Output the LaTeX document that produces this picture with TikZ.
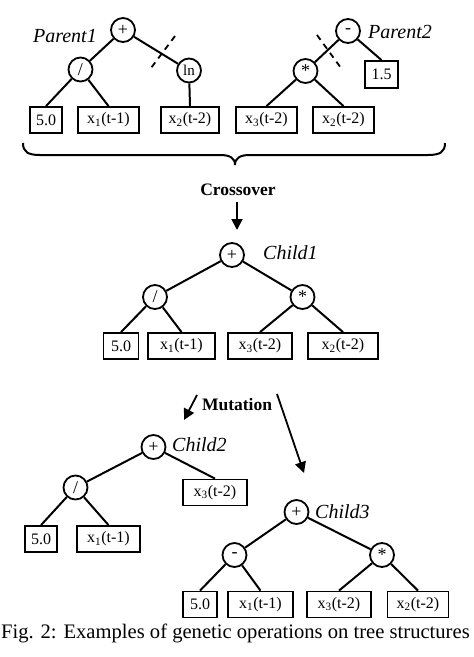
\documentclass[tikz,border=0pt]{standalone}
\usepackage{fontspec}
\setmainfont{Liberation Serif}
\usetikzlibrary{arrows.meta}
\begin{document}
\begin{tikzpicture}[x=1pt,y=-1pt,
  op/.style={circle,draw,line width=1.8pt,minimum size=24pt,inner sep=0pt,font=\fontsize{18}{18}\selectfont},
  leaf/.style={draw,line width=1.8pt,minimum height=26pt,inner sep=1pt,font=\fontsize{16}{16}\selectfont},
  edge/.style={line width=2pt},
  lab/.style={inner sep=0pt,font=\fontsize{20}{20}\selectfont\itshape},
  opname/.style={inner sep=0pt,font=\fontsize{17.5}{17.5}\selectfont\bfseries},
  cut/.style={line width=1.8pt,dash pattern=on 6pt off 5pt},
  arr/.style={line width=1.8pt,-{Triangle[length=11pt,width=11pt]}}
]
\useasboundingbox (0,0) rectangle (474,657);

% Parent1
\node[op] (p1r) at (123,30) {+};
\node[lab,anchor=east] (p1l) at (97,36) {Parent1};
\node[op] (p1a) at (80.5,69.5) {/};
\node[op,font=\fontsize{15}{15}\selectfont] (p1b) at (189,70.5) {ln};
\node[leaf,minimum width=32pt] (p1c) at (46,120) {5.0};
\node[leaf,minimum width=61pt] (p1d) at (108.5,120) {x\textsubscript{1}(t-1)};
\node[leaf,minimum width=58pt] (p1e) at (190,120) {x\textsubscript{2}(t-2)};
\draw[edge] (p1r) -- (p1a);
\draw[edge] (p1r) -- (p1b);
\draw[edge] (p1a) -- (p1c.north);
\draw[edge] (p1a) -- (p1d.north);
\draw[edge] (p1b) -- (p1e.north);
\coordinate (k1a) at (175,36);
\coordinate (k1b) at (151,68);
\draw[cut] (k1a) -- (k1b);

% Parent2
\node[op] (p2r) at (348,31) {-};
\node[lab,anchor=west] (p2l) at (368,32) {Parent2};
\node[op] (p2a) at (305.5,71) {*};
\node[leaf,minimum width=33pt,minimum height=27pt] (p2b) at (381.5,74.5) {1.5};
\node[leaf,minimum width=61pt] (p2c) at (266.5,120) {x\textsubscript{3}(t-2)};
\node[leaf,minimum width=61pt] (p2d) at (343.5,120) {x\textsubscript{2}(t-2)};
\draw[edge] (p2r) -- (p2a);
\draw[edge] (p2r) -- (p2b.north);
\draw[edge] (p2a) -- (p2c.north);
\draw[edge] (p2a) -- (p2d.north);
\coordinate (k2a) at (317,35);
\coordinate (k2b) at (341,68);
\draw[cut] (k2a) -- (k2b);

% brace
\draw[line width=2pt] (23,143) .. controls (23,152) and (28,155) .. (40,155) -- (220,155)
  .. controls (230,155) and (235,158) .. (235,165)
  .. controls (235,158) and (240,155) .. (250,155) -- (428,155)
  .. controls (440,155) and (445,152) .. (445,143);

% Crossover
\node[opname] (cx) at (238,190) {Crossover};
\coordinate (ca) at (237,202);
\coordinate (cb) at (237,230);
\draw[arr] (ca) -- (cb);

% Child1
\node[op] (c1r) at (232,255) {+};
\node[lab,anchor=west] (c1l) at (263,253) {Child1};
\node[op] (c1a) at (155,297) {/};
\node[op] (c1b) at (302.5,297) {*};
\node[leaf,minimum width=35pt] (c1c) at (121,346) {5.0};
\node[leaf,minimum width=67pt] (c1d) at (181.5,346) {x\textsubscript{1}(t-1)};
\node[leaf,minimum width=64pt] (c1e) at (260,346) {x\textsubscript{3}(t-2)};
\node[leaf,minimum width=70pt] (c1f) at (343,346) {x\textsubscript{2}(t-2)};
\draw[edge] (c1r) -- (c1a);
\draw[edge] (c1r) -- (c1b);
\draw[edge] (c1a) -- (c1c.north);
\draw[edge] (c1a) -- (c1d.north);
\draw[edge] (c1b) -- (c1e.north);
\draw[edge] (c1b) -- (c1f.north);

% Mutation
\node[opname] (mu) at (237,405) {Mutation};
\coordinate (m1a) at (197,395);
\coordinate (m1b) at (184,420);
\draw[arr] (m1a) -- (m1b);
\coordinate (m2a) at (277,394);
\coordinate (m2b) at (304,473);
\draw[arr] (m2a) -- (m2b);

% Child2
\node[op] (c2r) at (153.5,447) {+};
\node[lab,anchor=west] (c2l) at (172,445) {Child2};
\node[op] (c2a) at (75.5,487.5) {/};
\node[leaf,minimum width=64pt] (c2b) at (215,492.5) {x\textsubscript{3}(t-2)};
\node[leaf,minimum width=32pt] (c2c) at (41,539) {5.0};
\node[leaf,minimum width=63pt] (c2d) at (108.5,539) {x\textsubscript{1}(t-1)};
\draw[edge] (c2r) -- (c2a);
\draw[edge] (c2r) -- (c2b.north);
\draw[edge] (c2a) -- (c2c.north);
\draw[edge] (c2a) -- (c2d.north);

% Child3
\node[op] (c3r) at (296.5,512) {+};
\node[lab,anchor=west] (c3l) at (315,512) {Child3};
\node[op] (c3a) at (234.5,555) {-};
\node[op] (c3b) at (382,555) {*};
\node[leaf,minimum width=34pt] (c3c) at (200,604.5) {5.0};
\node[leaf,minimum width=65pt] (c3d) at (260.5,604.5) {x\textsubscript{1}(t-1)};
\node[leaf,minimum width=64pt] (c3e) at (339,604.5) {x\textsubscript{3}(t-2)};
\node[leaf,minimum width=61pt] (c3f) at (418,604.5) {x\textsubscript{2}(t-2)};
\draw[edge] (c3r) -- (c3a);
\draw[edge] (c3r) -- (c3b);
\draw[edge] (c3a) -- (c3c.north);
\draw[edge] (c3a) -- (c3d.north);
\draw[edge] (c3b) -- (c3e.north);
\draw[edge] (c3b) -- (c3f.north);

% caption
\node[anchor=base west,inner sep=0pt,font=\fontsize{20.6}{21}\selectfont] (cap) at (1,638) {Fig. 2: Examples of genetic operations on tree structures};
\end{tikzpicture}
\end{document}
